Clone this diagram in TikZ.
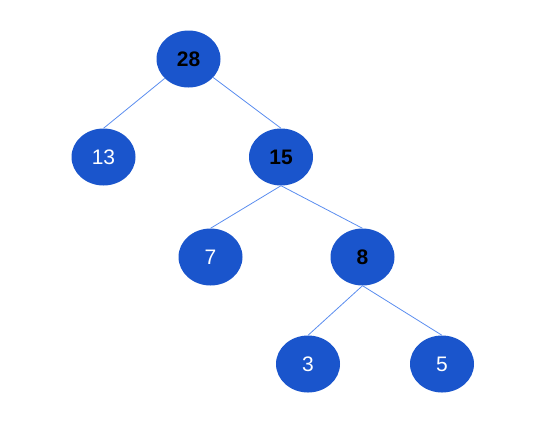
\documentclass[tikz,border=0pt]{standalone}
\usepackage{fontspec}
\setmainfont{Liberation Sans}
\usepackage{tikz}
\usetikzlibrary{shapes.geometric}
\definecolor{HeapBlue}{HTML}{1A55CC}
\definecolor{HeapLine}{HTML}{5B8DEF}
\definecolor{HeapInk}{HTML}{000000}
\tikzset{
  heapnode/.style={ellipse, fill=HeapBlue, draw=none, inner sep=0pt, minimum width=64pt, minimum height=57pt, font=\fontsize{21}{24}\selectfont},
  innernode/.style={heapnode, text=HeapInk, font=\fontsize{21}{24}\selectfont\bfseries},
  leafnode/.style={heapnode, text=white},
  heapedge/.style={draw=HeapLine, line width=0.8pt}
}

\begin{document}
\begin{tikzpicture}[x=1pt, y=-1pt]
\useasboundingbox (0,0) rectangle (534,437);
\node[innernode] (n28) at (188.5,59) {28};
\node[leafnode] (n13) at (103.5,157) {13};
\node[innernode] (n15) at (281,157) {15};
\node[leafnode] (n7) at (210.5,257) {7};
\node[innernode] (n8) at (362.5,257) {8};
\node[leafnode] (n3) at (308,364) {3};
\node[leafnode] (n5) at (442,364) {5};
% root edges leave the rim, lower ones the bottom point
\draw[heapedge] (n28) -- (n13.north);
\draw[heapedge] (n28) -- (n15.north);
\foreach \a/\b in {n15/n7, n15/n8, n8/n3, n8/n5} {
  \draw[heapedge] (\a.south) -- (\b.north);
}
\end{tikzpicture}
\end{document}
